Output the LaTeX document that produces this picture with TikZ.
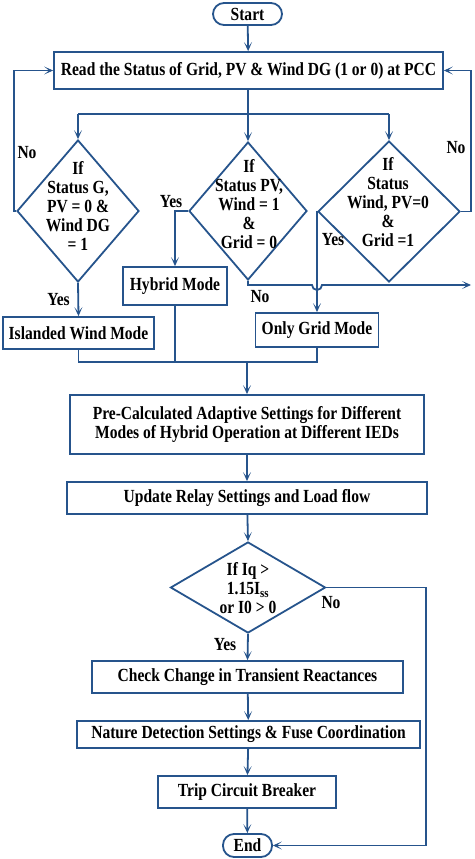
\documentclass[tikz,border=0pt]{standalone}
\usepackage{fontspec}
\setmainfont{Liberation Serif}[FakeStretch=0.84]
\usetikzlibrary{shapes.geometric,arrows.meta,calc}
\definecolor{fc}{RGB}{38,84,140}
\tikzset{
  every picture/.style={x=1pt,y=-1pt},
  box/.style={draw=fc,line width=1.8pt,fill=white,inner sep=0pt,align=center,font=\fontsize{18.5}{19}\selectfont\bfseries},
  term/.style={box,rounded corners=11pt},
  dia/.style={draw=fc,line width=1.8pt,shape=diamond,inner sep=0pt,anchor=center},
  dtext/.style={align=center,inner sep=0pt,font=\fontsize{18.5}{19}\selectfont\bfseries},
  lbl/.style={inner sep=0pt,font=\fontsize{18.5}{19}\selectfont\bfseries},
  conn/.style={draw=fc,line width=1.8pt},
  arr/.style={conn,-{Stealth[length=9pt,width=8pt,inset=5pt]}},
}
\begin{document}
\begin{tikzpicture}
\useasboundingbox (0,0) rectangle (474,859);
% nodes
\node[term,minimum width=69pt,minimum height=22pt] (start) at (247.5,14) {Start};
\node[box,minimum width=389pt,minimum height=37pt] (read) at (248.5,70.5) {Read the Status of Grid, PV \& Wind DG (1 or 0) at PCC};
\node[dia,minimum width=122pt,minimum height=142pt] (d1) at (78,211) {};
\node[dtext] (t1) at (78,206) {If\\Status G,\\PV = 0 \&\\Wind DG\\= 1};
\node[dia,minimum width=118pt,minimum height=138pt] (d2) at (248,211) {};
\node[dtext] (t2) at (249,204) {If\\Status PV,\\Wind = 1\\\&\\Grid = 0};
\node[dia,minimum width=142pt,minimum height=141pt] (d3) at (389,211.5) {};
\node[dtext] (t3) at (388,202) {If\\Status\\Wind, PV=0\\\&\\Grid =1};
\node[box,minimum width=104pt,minimum height=38pt] (hyb) at (175,286) {Hybrid Mode};
\node[box,minimum width=151pt,minimum height=32pt] (isl) at (78.5,333) {Islanded Wind Mode};
\node[box,minimum width=123pt,minimum height=34pt] (grid) at (317,330) {Only Grid Mode};
\node[box,minimum width=354pt,minimum height=59pt] (pre) at (247,424.5) {Pre-Calculated Adaptive Settings for Different\\Modes of Hybrid Operation at Different IEDs};
\node[box,minimum width=360pt,minimum height=32pt] (upd) at (247,498) {Update Relay Settings and Load flow};
\node[dia,minimum width=155pt,minimum height=91pt] (dq) at (248,587.5) {};
\node[dtext] (tq) at (248,588) {If Iq >\\1.15I\textsubscript{ss}\\or I0 > 0};
\node[box,minimum width=311pt,minimum height=32pt] (chk) at (247.5,677) {Check Change in Transient Reactances};
\node[box,minimum width=343pt,minimum height=27pt] (nat) at (248.5,734.5) {Nature Detection Settings \& Fuse Coordination};
\node[box,minimum width=178pt,minimum height=32pt] (trip) at (247,792) {Trip Circuit Breaker};
\node[term,minimum width=49pt,minimum height=23pt] (end) at (247.5,845.5) {End};
% helper coordinates
\coordinate (lx) at (14,0);
\coordinate (rx) at (471,0);
\coordinate (split) at (248,114);
\coordinate (noy) at (0,285);
\coordinate (mj) at (248,362);
\coordinate (qx) at (426,0);
% connectors
\draw[arr] (start) -- (read);
\draw[conn] (read.south -| split) -- (split);
\draw[conn] (d1.north |- split) -- (d3.north |- split);
\draw[arr] (d1.north |- split) -- (d1.north);
\draw[arr] (split) -- (d2.north);
\draw[arr] (d3.north |- split) -- (d3.north);
\draw[arr] (d1.west) -- (d1.west -| lx) |- (read.west);
\draw[arr] (d3.east) -- (d3.east -| rx) |- (read.east);
\draw[arr] (d2.west) -| (hyb.north);
\draw[arr] (d3.west) -| (grid.north);
\draw[arr] (d1.south) -- (isl.north);
\draw[arr] (d2.south) -- (d2.south |- noy) -- ($(grid.north |- noy)+(-5,0)$) arc[start angle=180,end angle=360,radius=5pt] -- (rx |- noy);
\draw[conn] (isl.south) -- (isl.south |- mj) -- (grid.south |- mj) -- (grid.south);
\draw[conn] (hyb.south) -- (hyb.south |- mj);
\draw[arr] (pre.north |- mj) -- (pre.north);
\draw[arr] (pre) -- (upd);
\draw[arr] (upd) -- (dq.north);
\draw[arr] (dq.south) -- (chk.north);
\draw[arr] (chk) -- (nat);
\draw[arr] (nat) -- (trip);
\draw[arr] (trip) -- (end);
\draw[arr] (dq.east) -| (end.east -| qx) -- (end.east);
% labels
\node[lbl] (l1) at (27,153) {No};
\node[lbl] (l2) at (456,148) {No};
\node[lbl] (l3) at (171,202) {Yes};
\node[lbl] (l4) at (260,297) {No};
\node[lbl] (l5) at (333,240) {Yes};
\node[lbl] (l6) at (58.5,300) {Yes};
\node[lbl] (l7) at (331,603) {No};
\node[lbl] (l8) at (225,645) {Yes};
\end{tikzpicture}
\end{document}
